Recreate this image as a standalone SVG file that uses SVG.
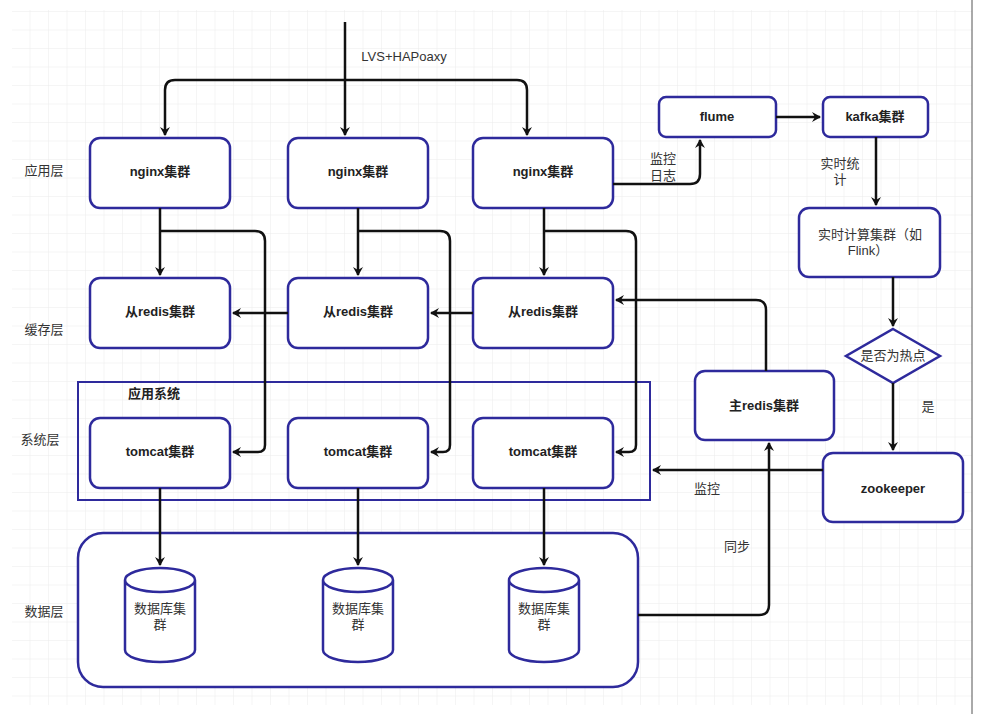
<svg xmlns="http://www.w3.org/2000/svg" width="996" height="714" viewBox="0 0 996 714">
<defs>
<pattern id="g" width="18.5" height="18.5" patternUnits="userSpaceOnUse" x="12" y="12"><path d="M18.5 0V18.5H0" fill="none" stroke="#ececec" stroke-width="1"/></pattern>
<marker id="a" markerWidth="10" markerHeight="10" refX="8" refY="5" orient="auto" markerUnits="userSpaceOnUse"><path d="M0 0L9 5L0 10L3 5Z" fill="#111"/></marker>
<style>
.n{fill:#fff;stroke:#2e2a9c;stroke-width:2.5}
.c{fill:none;stroke:#111;stroke-width:2.5;marker-end:url(#a)}
.t{font-family:"Liberation Sans","Noto Sans CJK SC",sans-serif;font-size:13px;font-weight:bold;fill:#222;text-anchor:middle;dominant-baseline:middle}
.l{font-family:"Liberation Sans","Noto Sans CJK SC",sans-serif;font-size:13px;fill:#333;text-anchor:middle;dominant-baseline:middle}
</style>
</defs>
<rect width="996" height="714" fill="#fff"/>
<rect x="12" y="10" width="960" height="695" fill="url(#g)"/>
<line x1="972" y1="0" x2="972" y2="714" stroke="#555" stroke-width="1"/>
<g id="labels">
<text class="l" x="44" y="172">应用层</text>
<text class="l" x="44" y="331">缓存层</text>
<text class="l" x="40" y="441">系统层</text>
<text class="l" x="44" y="613">数据层</text>
</g>
<g id="appsys"><rect x="78" y="382" width="572" height="118" fill="none" stroke="#2e2a9c" stroke-width="2"/><text class="t" x="154" y="395">应用系统</text></g>
<g id="database"><rect class="n" x="78" y="533" width="560" height="154" rx="25"/></g>
<g id="nginx1"><rect class="n" x="90" y="138" width="140" height="70" rx="10"/><text class="t" x="160" y="173">nginx集群</text></g>
<g id="nginx2"><rect class="n" x="288" y="138" width="140" height="70" rx="10"/><text class="t" x="358" y="173">nginx集群</text></g>
<g id="nginx3"><rect class="n" x="473" y="138" width="140" height="70" rx="10"/><text class="t" x="543" y="173">nginx集群</text></g>
<g id="redis1"><rect class="n" x="90" y="278" width="140" height="70" rx="10"/><text class="t" x="160" y="313">从redis集群</text></g>
<g id="redis2"><rect class="n" x="288" y="278" width="140" height="70" rx="10"/><text class="t" x="358" y="313">从redis集群</text></g>
<g id="redis3"><rect class="n" x="473" y="278" width="140" height="70" rx="10"/><text class="t" x="543" y="313">从redis集群</text></g>
<g id="tomcat1"><rect class="n" x="90" y="418" width="140" height="70" rx="10"/><text class="t" x="160" y="453">tomcat集群</text></g>
<g id="tomcat2"><rect class="n" x="288" y="418" width="140" height="70" rx="10"/><text class="t" x="358" y="453">tomcat集群</text></g>
<g id="tomcat3"><rect class="n" x="473" y="418" width="140" height="70" rx="10"/><text class="t" x="543" y="453">tomcat集群</text></g>
<g id="db1"><path class="n" d="M125 580V650A35 12 0 0 0 195 650V580A35 12 0 0 0 125 580A35 12 0 0 0 195 580"/><text class="l" x="160" y="610">数据库集</text><text class="l" x="160" y="626">群</text></g>
<g id="db2"><path class="n" d="M323 580V650A35 12 0 0 0 393 650V580A35 12 0 0 0 323 580A35 12 0 0 0 393 580"/><text class="l" x="358" y="610">数据库集</text><text class="l" x="358" y="626">群</text></g>
<g id="db3"><path class="n" d="M509 580V650A35 12 0 0 0 579 650V580A35 12 0 0 0 509 580A35 12 0 0 0 579 580"/><text class="l" x="544" y="610">数据库集</text><text class="l" x="544" y="626">群</text></g>
<g id="flume"><rect class="n" x="659" y="97" width="117" height="40" rx="7"/><text class="t" x="717" y="118">flume</text></g>
<g id="kafka"><rect class="n" x="823" y="97" width="105" height="40" rx="7"/><text class="t" x="875" y="118">kafka集群</text></g>
<g id="flink"><rect class="n" x="799" y="208" width="141" height="69" rx="10"/><text class="l" x="870" y="236">实时计算集群（如</text><text class="l" x="868" y="252">Flink）</text></g>
<g id="hot"><path class="n" d="M893 329L940 356L893 383L846 356Z"/><text class="l" x="893" y="357">是否为热点</text></g>
<g id="master"><rect class="n" x="695" y="371" width="139" height="69" rx="10"/><text class="t" x="764" y="407">主redis集群</text></g>
<g id="zookeeper"><rect class="n" x="823" y="453" width="140" height="69" rx="10"/><text class="t" x="893" y="490">zookeeper</text></g>
<g id="connectors">
<path class="c" d="M345 22V135"/>
<path class="c" d="M345 80H175Q165 80 165 90V135"/>
<path class="c" d="M345 80H517Q527 80 527 90V135"/>
<text class="l" x="404" y="58">LVS+HAPoaxy</text>
<path class="c" d="M160 208V275"/>
<path class="c" d="M160 231H255Q265 231 265 241V445Q265 452 258 452H233"/>
<path class="c" d="M358 208V275"/>
<path class="c" d="M358 231H440Q450 231 450 241V445Q450 452 443 452H431"/>
<path class="c" d="M544 208V275"/>
<path class="c" d="M544 231H626Q636 231 636 241V445Q636 452 629 452H616"/>
<path class="c" d="M288 313H233"/>
<path class="c" d="M473 313H431"/>
<path class="c" d="M766 371V310Q766 300 756 300H616"/>
<path class="c" d="M613 184H690Q700 184 700 174V140"/>
<text class="l" x="663" y="160">监控</text><text class="l" x="663" y="177">日志</text>
<path class="c" d="M776 117H820"/>
<path class="c" d="M876 137V205"/>
<text class="l" x="840" y="165">实时统</text><text class="l" x="840" y="181">计</text>
<path class="c" d="M893 277V326"/>
<path class="c" d="M893 383V450"/>
<text class="l" x="928" y="408">是</text>
<path class="c" d="M823 470H653"/>
<text class="l" x="707" y="490">监控</text>
<path class="c" d="M638 615H759Q769 615 769 605V443"/>
<text class="l" x="737" y="548">同步</text>
<path class="c" d="M160 488V565"/>
<path class="c" d="M358 488V565"/>
<path class="c" d="M544 488V565"/>
</g>
</svg>
